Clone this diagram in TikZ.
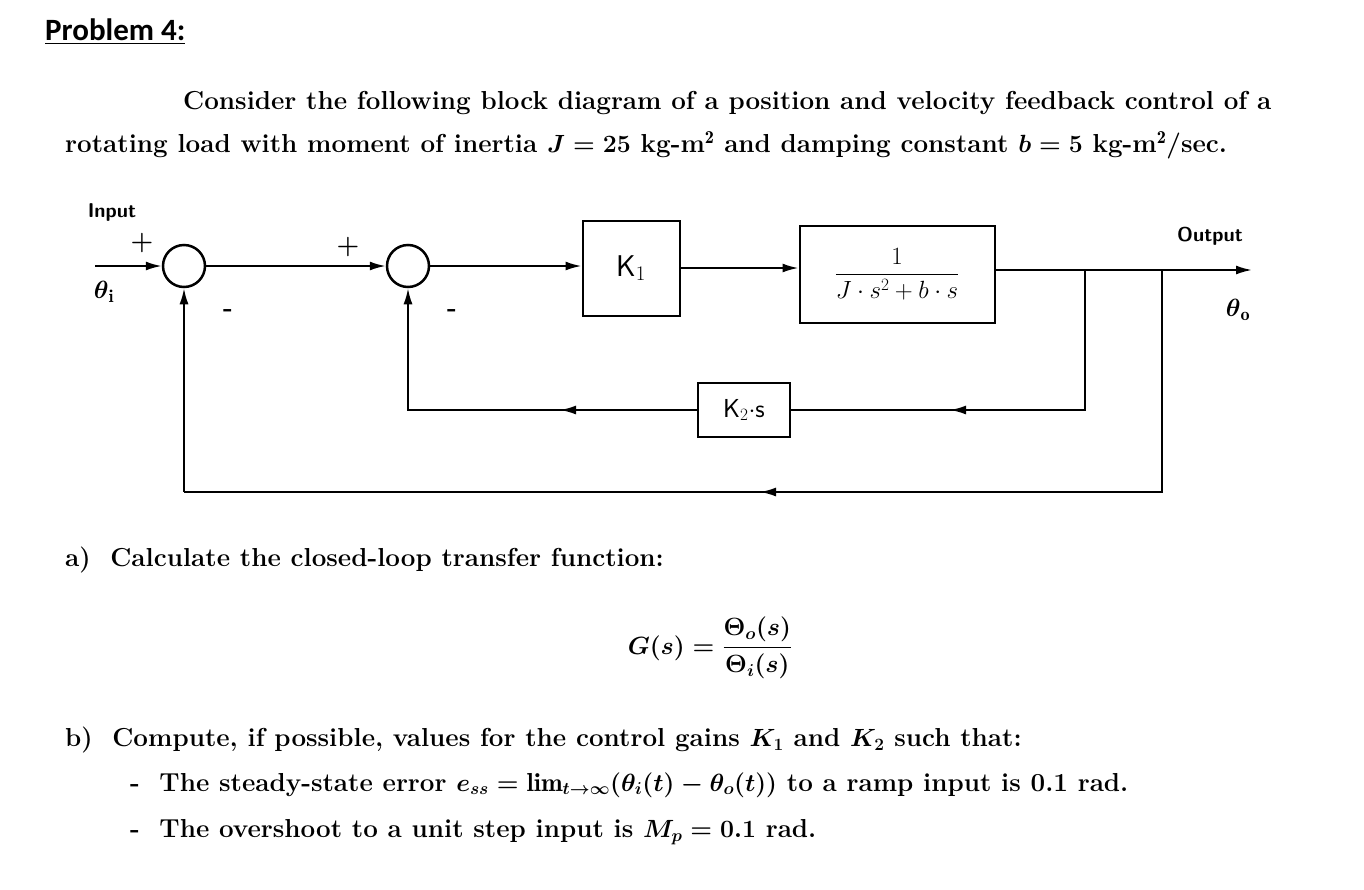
\documentclass[tikz,border=0pt]{standalone}
\usepackage{fontspec}
\usepackage{amsmath}
\newfontfamily\carlitofont{Carlito}
\usetikzlibrary{arrows.meta}
\begin{document}
\begin{tikzpicture}[x=1pt,y=-1pt,
  line/.style={line width=2pt},
  arr/.style={line width=2pt,-{Latex[length=16pt,width=9pt]}},
  blk/.style={draw,line width=2pt,inner sep=0pt},
  sumc/.style={draw,circle,line width=2.5pt,minimum size=42pt,inner sep=0pt},
  txt/.style={font=\fontsize{26}{30}\selectfont\bfseries,inner sep=0pt}]
\useasboundingbox (0,0) rectangle (1364,889);
\node[anchor=west,inner sep=0pt,font=\carlitofont\bfseries\fontsize{31}{36}\selectfont] (title) at (45,32) {\underline{Problem 4:}};
\node[txt,anchor=west] (p1) at (183,103) {Consider the following block diagram of a position and velocity feedback control of a};
\node[txt,anchor=west] (p2) at (65,145) {rotating load with moment of inertia $\boldsymbol{J=25}$ kg-m$^{\mathbf 2}$ and damping constant $\boldsymbol{b=5}$ kg-m$^{\mathbf 2}$/sec.};
% diagram
\node[sumc] (s1) at (184,266) {};
\node[sumc] (s2) at (408,266) {};
\node[blk,minimum width=97pt,minimum height=95pt] (k1) at (631,268) {};
\node[font=\fontsize{30}{34}\selectfont\sffamily] (k1t) at (k1) {K$_1$};
\node[blk,minimum width=195pt,minimum height=97pt] (g) at (897,274) {};
\node[font=\fontsize{26}{30}\selectfont] (gt) at (g) {$\dfrac{1}{J\cdot s^2+b\cdot s}$};
\node[blk,minimum width=92pt,minimum height=54pt] (k2) at (744,410) {};
\node[font=\fontsize{26}{30}\selectfont\sffamily] (k2t) at (k2) {K$_2\cdot$s};
\coordinate (in) at (95,266);
\coordinate (out) at (1252,270);
\coordinate (b1) at (1085,270);
\coordinate (b2) at (1162,270);
\draw[arr] (in) -- (s1.west);
\draw[arr] (s1.east) -- (s2.west);
\draw[arr] (s2.east) -- (k1.west |- s2.east);
\draw[arr] (k1.east |- 0,268) -- (g.west |- 0,268);
\draw[arr] (g.east |- b1) -- (out);
\draw[line] (b1) |- (k2.east);
\draw[arr] (b1 |- k2) -- (950,410);
\draw[arr] (k2.west) -| (s2.south);
\draw[arr] (k2.west) -- (560,410);
\draw[line] (b2) |- (184,492);
\draw[arr] (b2 |- 0,492) -- (760,492);
\draw[arr] (184,492) -- (s1.south);
\node[font=\sffamily\bfseries\fontsize{20}{24}\selectfont] (inl) at (112,212) {Input};
\node[font=\sffamily\bfseries\fontsize{20}{24}\selectfont] (outl) at (1210,236) {Output};
\node[font=\bfseries\fontsize{26}{30}\selectfont] (p1s) at (142,243) {+};
\node[font=\bfseries\fontsize{26}{30}\selectfont] (p2s) at (348,247) {+};
\node[font=\bfseries\fontsize{26}{30}\selectfont] (m1) at (228,313) {-};
\node[font=\bfseries\fontsize{26}{30}\selectfont] (m2) at (452,313) {-};
\node[font=\fontsize{26}{30}\selectfont] (ti) at (104,292) {$\boldsymbol\theta_{\mathbf i}$};
\node[font=\fontsize{26}{30}\selectfont] (to) at (1238,310) {$\boldsymbol\theta_{\mathbf o}$};
% questions
\node[txt,anchor=west] (qa) at (65,560) {a)\ \ Calculate the closed-loop transfer function:};
\node[txt] (gs) at (710,648) {$\boldsymbol{G(s)=\dfrac{\Theta_o(s)}{\Theta_i(s)}}$};
\node[txt,anchor=west] (qb) at (65,740) {b)\ \ Compute, if possible, values for the control gains $\boldsymbol{K_1}$ and $\boldsymbol{K_2}$ such that:};
\node[txt,anchor=west] (b1t) at (130,785) {-\ \ The steady-state error $\boldsymbol{e_{ss}=\lim_{t\to\infty}(\theta_i(t)-\theta_o(t))}$ to a ramp input is 0.1 rad.};
\node[txt,anchor=west] (b2t) at (130,832) {-\ \ The overshoot to a unit step input is $\boldsymbol{M_p=0.1}$ rad.};
\end{tikzpicture}
\end{document}
